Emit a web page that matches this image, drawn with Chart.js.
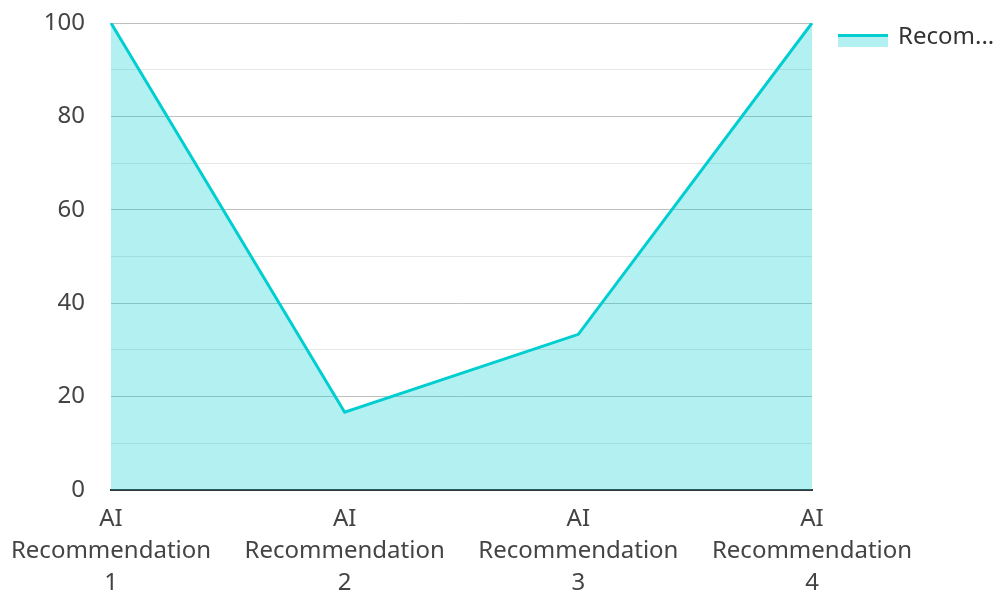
<!DOCTYPE html>
<html lang="en">
<head>
    <meta charset="UTF-8">
    <title>AI Recommendations</title>
    <script src="https://cdn.jsdelivr.net/npm/chart.js"></script>
    <style>
        html, body { margin: 0; padding: 0; background: #fff; }
        .wrap { width: 999px; height: 594px; position: relative; }
    </style>
</head>
<body>
    <div class="wrap">
        <canvas id="lineChart"></canvas>
    </div>

    <script>
        // chart data
        const categories = [
            ['AI', 'Recommendation', '1'],
            ['AI', 'Recommendation', '2'],
            ['AI', 'Recommendation', '3'],
            ['AI', 'Recommendation', '4']
        ];
        const seriesName = 'Recommendation Score';
        const seriesValues = [100, 16.67, 33.33, 100];
        const yTicks = [0, 20, 40, 60, 80, 100];

        const lineColor = '#00CED1';
        const fillColor = 'rgba(0, 206, 209, 0.3)';
        const fontFamily = '"Noto Sans", "Open Sans", sans-serif';

        // legend on the right: filled swatch with a thick top line, truncated name
        const sideLegend = {
            id: 'sideLegend',
            afterDraw(chart) {
                const ctx = chart.ctx;
                const x = chart.chartArea.right + 26;
                const y = chart.chartArea.top + 11;
                ctx.save();
                ctx.fillStyle = fillColor;
                ctx.fillRect(x, y, 50, 13);
                ctx.strokeStyle = lineColor;
                ctx.lineWidth = 3;
                ctx.beginPath();
                ctx.moveTo(x, y + 1.5);
                ctx.lineTo(x + 50, y + 1.5);
                ctx.stroke();
                ctx.fillStyle = '#333';
                ctx.font = '24px ' + fontFamily;
                ctx.textBaseline = 'middle';
                ctx.fillText(seriesName.slice(0, 5) + '...', x + 60, y + 3);
                ctx.restore();
            }
        };

        const ctx = document.getElementById('lineChart').getContext('2d');
        new Chart(ctx, {
            type: 'line',
            data: {
                labels: categories,
                datasets: [{
                    label: seriesName,
                    data: seriesValues,
                    borderColor: lineColor,
                    backgroundColor: fillColor,
                    borderWidth: 3,
                    fill: 'origin',
                    tension: 0,
                    pointRadius: 0,
                    pointHoverRadius: 0
                }]
            },
            options: {
                responsive: true,
                maintainAspectRatio: false,
                animation: false,
                layout: { padding: { top: 23, right: 187, bottom: 0, left: 0 } },
                plugins: {
                    tooltip: { enabled: false },
                    legend: { display: false }
                },
                scales: {
                    x: {
                        offset: false,
                        afterFit: s => {
                            s.height = 104;
                            s.paddingLeft = 0;
                            s.paddingRight = 0;
                        },
                        grid: { display: false, drawTicks: false },
                        border: { display: true, color: '#333', width: 2 },
                        ticks: {
                            autoSkip: false,
                            maxRotation: 0,
                            padding: 13,
                            color: '#444',
                            font: { family: fontFamily, size: 24, lineHeight: 1.33 }
                        }
                    },
                    y: {
                        min: 0,
                        max: 100,
                        afterFit: s => {
                            s.width = 111;
                            s.paddingTop = 0;
                            s.paddingBottom = 0;
                        },
                        border: { display: false },
                        grid: {
                            drawTicks: false,
                            lineWidth: 1,
                            color: c => {
                                if (c.tick.value === 0) return 'rgba(0,0,0,0)';
                                return yTicks.includes(c.tick.value) ? '#bfbfbf' : '#e6e6e6';
                            }
                        },
                        ticks: {
                            stepSize: 10,
                            padding: 26,
                            color: '#444',
                            font: { family: fontFamily, size: 24 },
                            callback: v => yTicks.includes(v) ? v : ''
                        }
                    }
                }
            },
            plugins: [sideLegend]
        });
    </script>
</body>
</html>
